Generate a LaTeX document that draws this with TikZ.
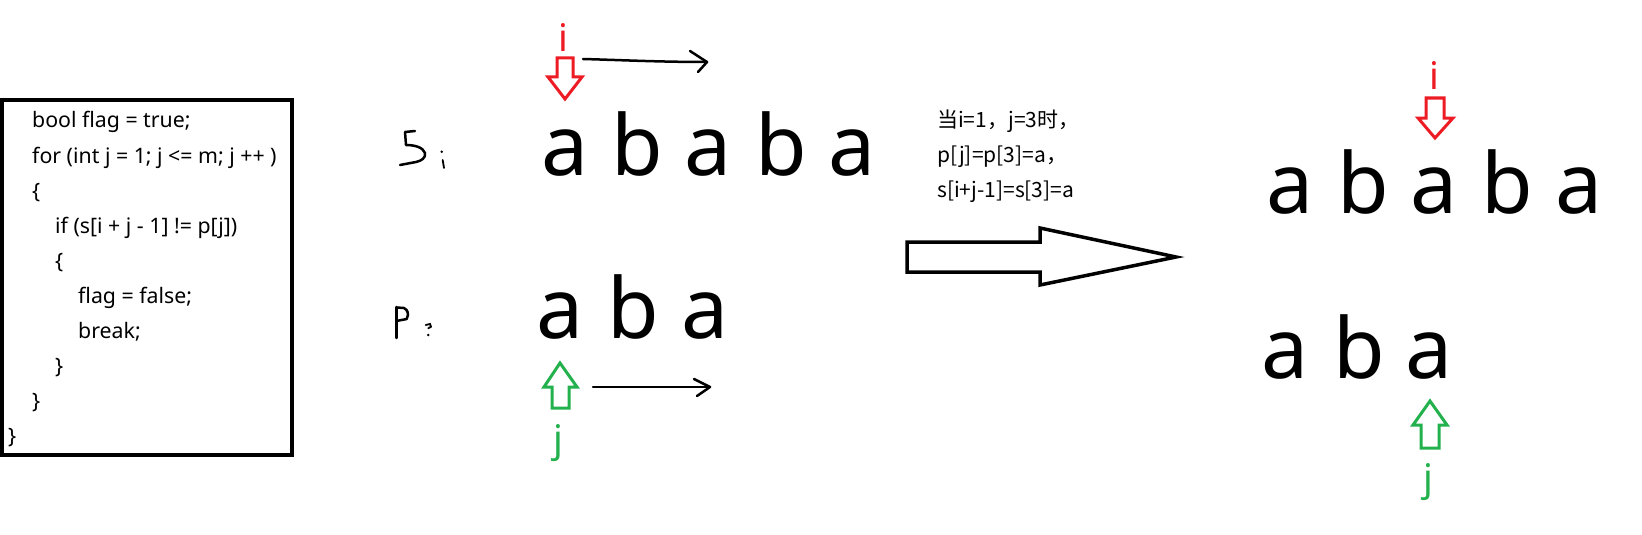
\documentclass[tikz,border=0pt]{standalone}
\usepackage{fontspec}
\setmainfont{Noto Sans}
\newfontfamily\cjk{Noto Sans CJK SC}
\definecolor{pred}{RGB}{237,28,36}
\definecolor{pgreen}{RGB}{34,177,76}
\tikzset{
  big/.style={font=\fontsize{84}{84}\selectfont, inner sep=0pt, anchor=base},
  code/.style={font=\fontsize{21.3}{21.3}\selectfont, inner sep=0pt, anchor=base west},
  note/.style={font=\cjk\fontsize{21}{21}\selectfont, inner sep=0pt, anchor=base west},
  idx/.style={font=\fontsize{38}{38}\selectfont, inner sep=0pt, anchor=base},
  hand/.style={line width=2.5pt, line cap=round, line join=round},
  hollow/.style={line width=3pt, line join=miter},
}
\begin{document}
\begin{tikzpicture}[x=1pt,y=-1pt]
\useasboundingbox (0,0) rectangle (1642,535);
% code box
\draw[line width=3.5pt] (2,100) rectangle (292,455);
\node[code] (c1) at (32,128) {bool flag = true;};
\node[code] (c2) at (32,163) {for (int j = 1; j <= m; j ++ )};
\node[code] (c3) at (32,198) {\{};
\node[code] (c4) at (55,233) {if (s[i + j - 1] != p[j])};
\node[code] (c5) at (55,268) {\{};
\node[code] (c6) at (78,303) {flag = false;};
\node[code] (c7) at (78,338) {break;};
\node[code] (c8) at (55,373) {\}};
\node[code] (c9) at (32,408) {\}};
\node[code] (c10) at (8,443) {\}};
% hand-drawn S;
\draw[hand] (415,131) -- (405,132) -- (406,145) .. controls (414,145) and (423,147) .. (425,153) .. controls (426,158) and (421,161) .. (416,162) -- (400,165);
\fill (441.7,151.7) circle (1.4pt);
\draw[line width=1.8pt, line cap=round] (442.7,160) -- (444,168);
% hand-drawn P;
\draw[hand] (396.7,307) -- (396.7,338);
\draw[hand] (396.7,307.5) -- (404,308) .. controls (408,310) and (409,314) .. (406.7,319) -- (398,320.7);
\draw[line width=1.8pt, line cap=round] (425.7,325) -- (430,324) -- (431,326.7) -- (428.3,328.3);
\fill (428.3,335) circle (1.4pt);
% left top row
\node[big] (s1) at (565,175) {a};
\node[big] (s2) at (637,175) {b};
\node[big] (s3) at (708,175) {a};
\node[big] (s4) at (781,175) {b};
\node[big] (s5) at (852,175) {a};
% left bottom row
\node[big] (p1) at (560,338) {a};
\node[big] (p2) at (633,338) {b};
\node[big] (p3) at (705,338) {a};
% red i and arrow (left)
\node[idx, text=pred] (i1) at (563,52) {i};
\draw[hollow, pred] (557,58) -- (573,58) -- (573,77) -- (582,77) -- (565,99) -- (548,77) -- (557,77) -- cycle;
% black hand arrow top
\coordinate (ta0) at (583,59);
\coordinate (ta1) at (707,62);
\draw[hand] (ta0) .. controls (620,60) and (660,62) .. (ta1);
\draw[hand] (690,51) -- (ta1) -- (698,72);
% green arrow and j (left)
\draw[hollow, pgreen] (552,408) -- (569,408) -- (569,387) -- (577,387) -- (560,363) -- (544,387) -- (552,387) -- cycle;
\node[idx, text=pgreen] (j1) at (558,452) {j};
% black hand arrow bottom
\coordinate (ba0) at (593,387);
\coordinate (ba1) at (710,387);
\draw[hand] (ba0) -- (ba1);
\draw[hand] (694,379) -- (ba1) -- (697,396);
% note text
\node[note] (n1) at (937,127) {当i=1，j=3时，};
\node[note] (n2) at (937,162) {p[j]=p[3]=a，};
\node[note] (n3) at (937,197) {s[i+j-1]=s[3]=a};
% big hollow arrow
\draw[line width=3.5pt, line join=miter] (907,242) -- (1040,242) -- (1040,228) -- (1176,257) -- (1040,285) -- (1040,272) -- (907,272) -- cycle;
% right top row
\node[big] (r1) at (1290,213) {a};
\node[big] (r2) at (1363,213) {b};
\node[big] (r3) at (1434,213) {a};
\node[big] (r4) at (1507,213) {b};
\node[big] (r5) at (1579,213) {a};
% right bottom row
\node[big] (q1) at (1285,378) {a};
\node[big] (q2) at (1359,378) {b};
\node[big] (q3) at (1429,378) {a};
% red i and arrow (right)
\node[idx, text=pred] (i2) at (1434,90) {i};
\draw[hollow, pred] (1426,98) -- (1444,98) -- (1444,118) -- (1453,118) -- (1435,138) -- (1418,118) -- (1426,118) -- cycle;
% green arrow and j (right)
\draw[hollow, pgreen] (1421,448) -- (1439,448) -- (1439,425) -- (1447,425) -- (1430,401) -- (1413,425) -- (1421,425) -- cycle;
\node[idx, text=pgreen] (j2) at (1428,491) {j};
\end{tikzpicture}
\end{document}
